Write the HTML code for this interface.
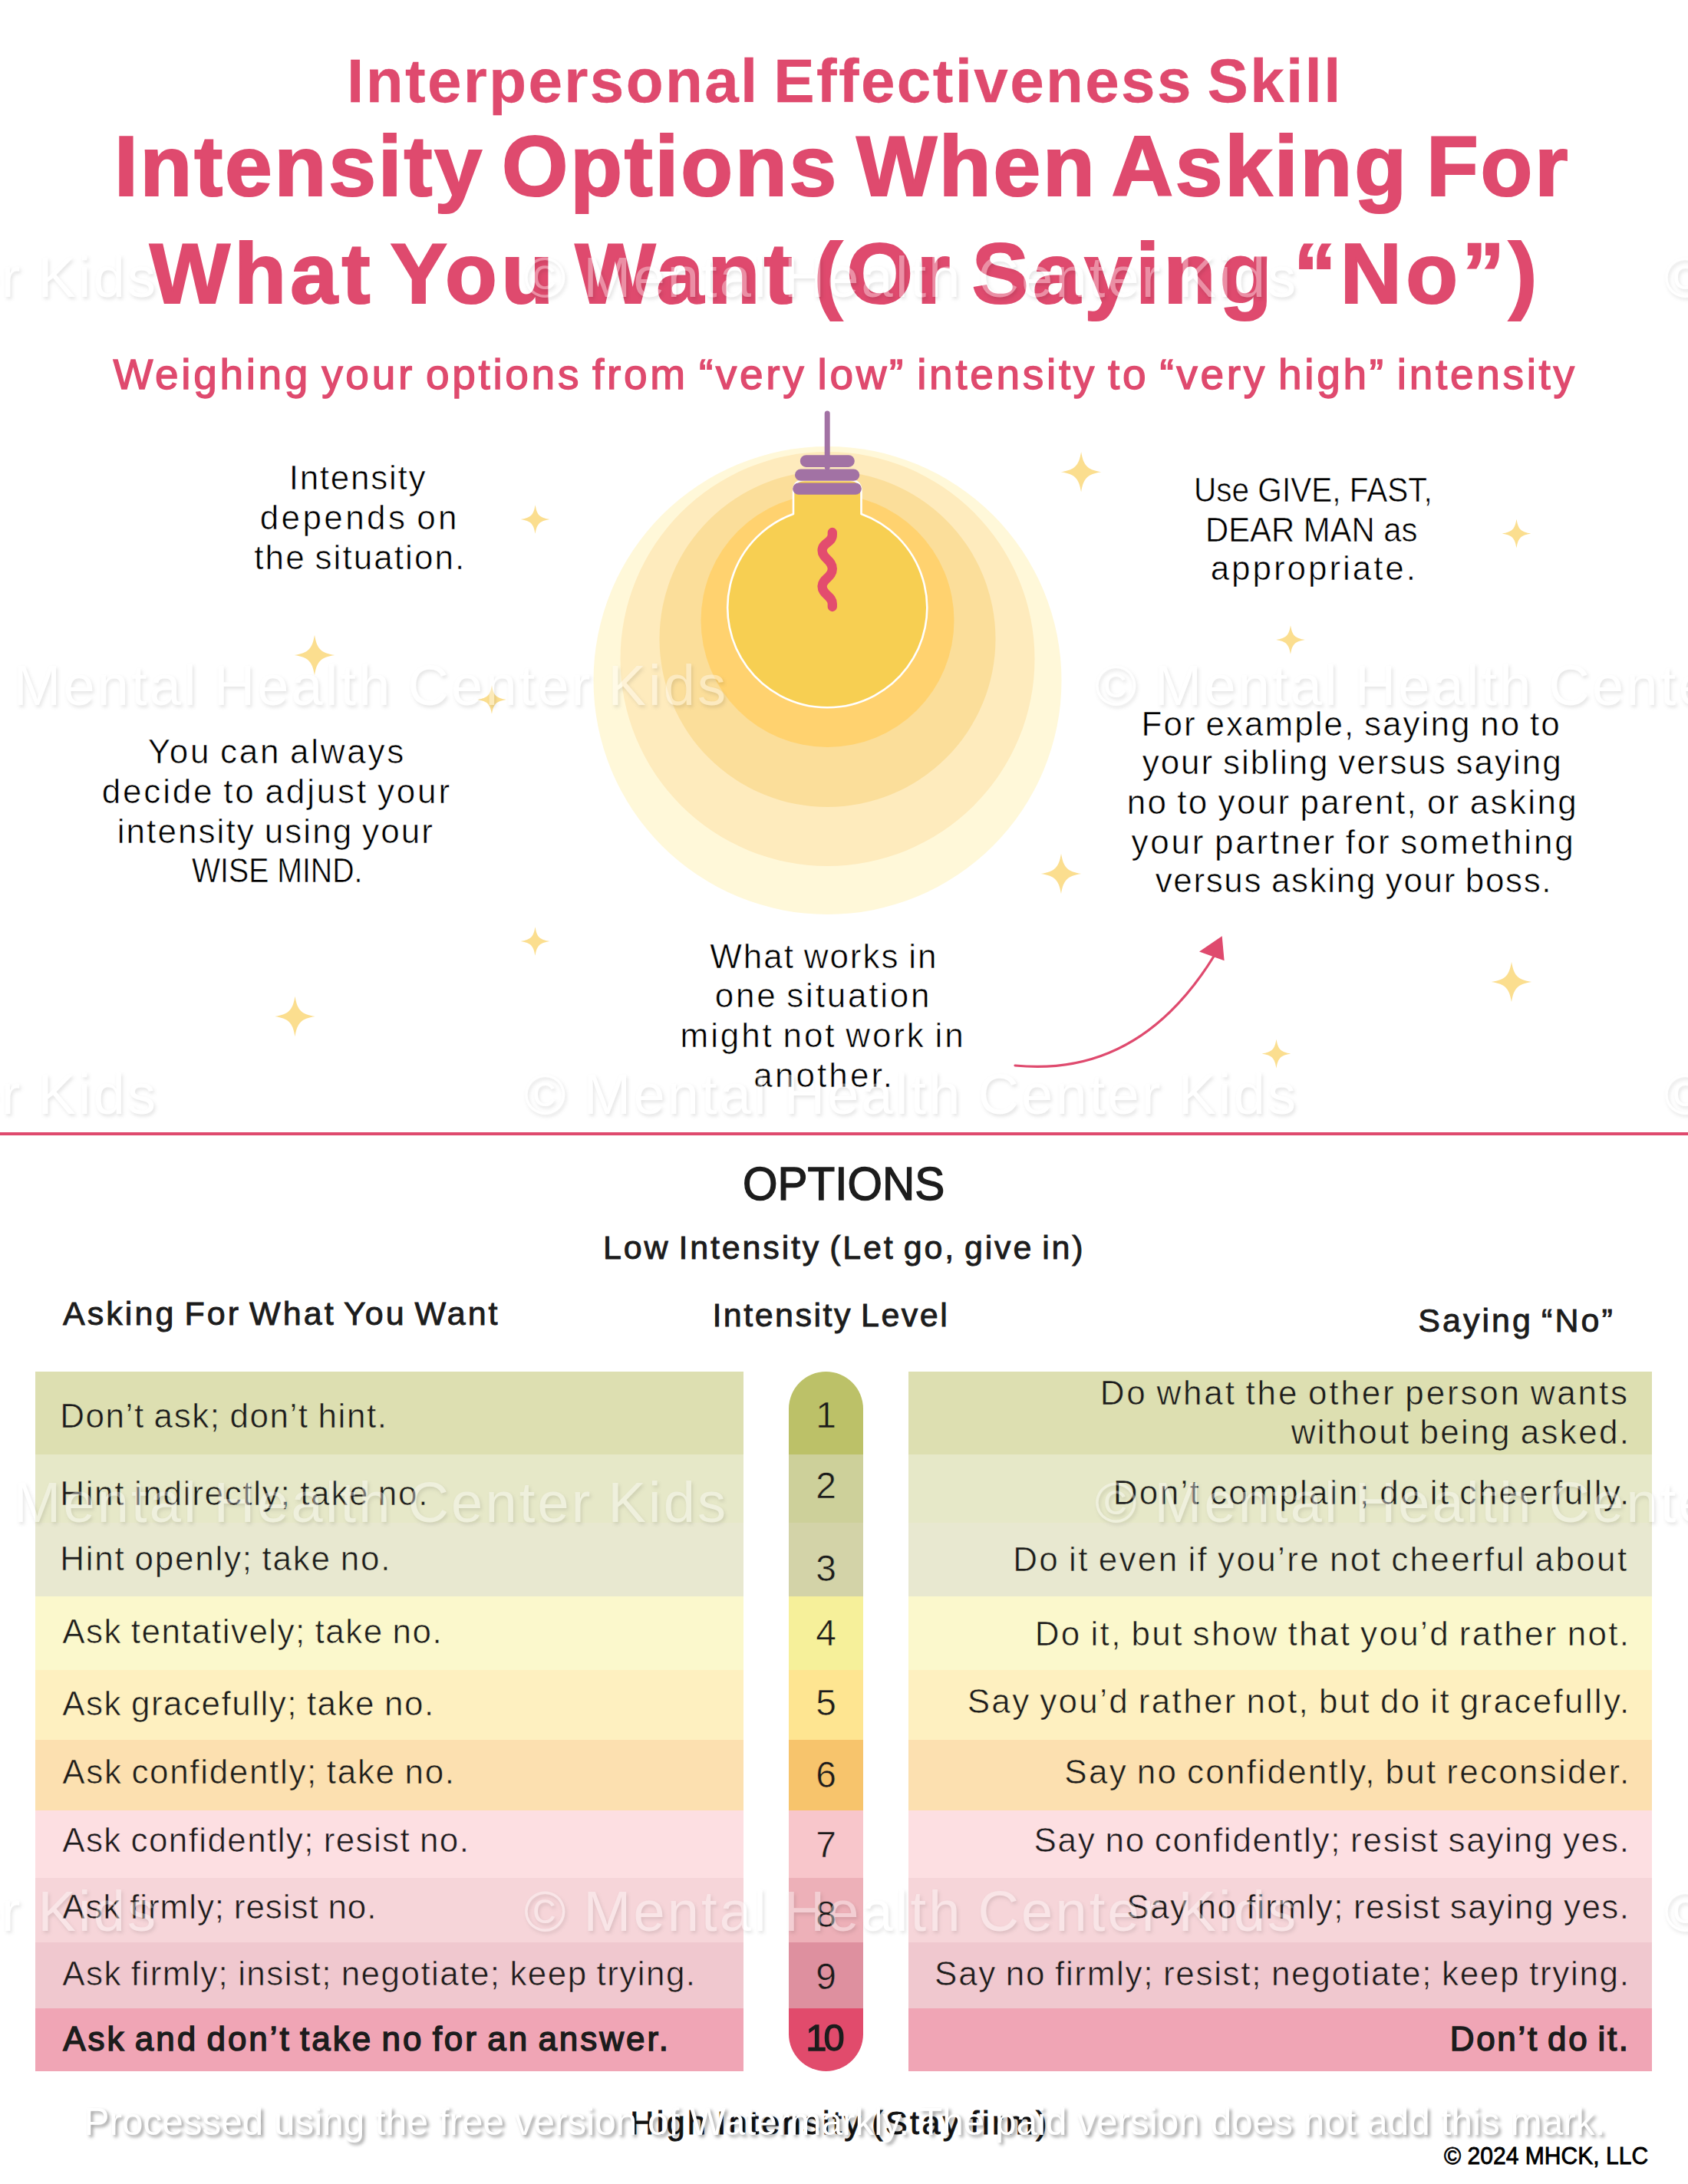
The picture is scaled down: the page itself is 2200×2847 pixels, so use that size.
<!DOCTYPE html>
<html lang="en"><head><meta charset="utf-8"><title>Intensity Options When Asking For What You Want (Or Saying “No”)</title>
<style>
html,body{margin:0;padding:0;background:#fff}
#pg{position:relative;width:2200px;height:2847px;overflow:hidden;background:#fff;font-family:"Liberation Sans",sans-serif}
.t{position:absolute;white-space:nowrap;line-height:1em;margin:0}
.r{position:absolute}
.n{text-align:center}
.pill{position:absolute;left:1028.2px;top:1788px;width:96.8px;height:912px;border-radius:48.4px;overflow:hidden}
.wm{opacity:.38;text-shadow:2px 3px 4px rgba(0,0,0,.26)}
svg{position:absolute;left:0;top:0}
.hr{position:absolute;left:0;top:1476.3px;width:2200px;height:4px;background:#DF4A6E}
.wk{color:#fff;text-shadow:3px 3px 4px rgba(0,0,0,.38);}
</style></head><body><div id="pg">
<svg width="2200" height="1480" viewBox="0 0 2200 1480">
<circle cx="1078.5" cy="887" r="305" fill="#FFF8D9"/>
<circle cx="1078.5" cy="859" r="270" fill="#FEEBBD"/>
<circle cx="1078.5" cy="833" r="219" fill="#FBDE9A"/>
<circle cx="1078.5" cy="809" r="165" fill="#FFD26F"/>
<path d="M1034,670 L1034,641 Q1034,626 1049,626 L1107.5,626 Q1122.5,626 1122.5,641 L1122.5,670 A130,130 0 1 1 1034,670Z" fill="#F7CF52" stroke="#fff" stroke-width="2.6" stroke-linejoin="round"/>
<path d="M1078.2,539 L1078.2,609" stroke="#A272A4" stroke-width="7" stroke-linecap="round" fill="none"/>
<rect x="1042.8" y="593.2" width="71" height="15.7" rx="7.8" fill="#A272A4"/>
<rect x="1036" y="611.5" width="84.2" height="15.3" rx="7.6" fill="#A272A4"/>
<rect x="1033.2" y="629.5" width="89.6" height="15.3" rx="7.6" fill="#A272A4"/>
<path d="M1084.8,694 L1084.8,697 C1084.8,708 1071.6,707 1071.6,717.5 C1071.6,728 1084.8,730 1084.8,741.5 C1084.8,753 1071.6,754 1071.6,764.5 C1071.6,775 1084.8,777 1084.8,787 L1084.8,791" stroke="#E34C6E" stroke-width="12.3" stroke-linecap="round" stroke-linejoin="round" fill="none"/>
<path transform="translate(697.6,677)" d="M0,-18.8 C2.26,-5.64 5.64,-2.26 18.8,0 C5.64,2.26 2.26,5.64 0,18.8 C-2.26,5.64 -5.64,2.26 -18.8,0 C-5.64,-2.26 -2.26,-5.64 0,-18.8Z" fill="#FBDE8F"/>
<path transform="translate(410,854)" d="M0,-26.3 C3.16,-7.89 7.89,-3.16 26.3,0 C7.89,3.16 3.16,7.89 0,26.3 C-3.16,7.89 -7.89,3.16 -26.3,0 C-7.89,-3.16 -3.16,-7.89 0,-26.3Z" fill="#FBDE8F"/>
<path transform="translate(641,912)" d="M0,-18.8 C2.26,-5.64 5.64,-2.26 18.8,0 C5.64,2.26 2.26,5.64 0,18.8 C-2.26,5.64 -5.64,2.26 -18.8,0 C-5.64,-2.26 -2.26,-5.64 0,-18.8Z" fill="#FBDE8F"/>
<path transform="translate(697.5,1227)" d="M0,-18.8 C2.26,-5.64 5.64,-2.26 18.8,0 C5.64,2.26 2.26,5.64 0,18.8 C-2.26,5.64 -5.64,2.26 -18.8,0 C-5.64,-2.26 -2.26,-5.64 0,-18.8Z" fill="#FBDE8F"/>
<path transform="translate(384.5,1325)" d="M0,-26.3 C3.16,-7.89 7.89,-3.16 26.3,0 C7.89,3.16 3.16,7.89 0,26.3 C-3.16,7.89 -7.89,3.16 -26.3,0 C-7.89,-3.16 -3.16,-7.89 0,-26.3Z" fill="#FBDE8F"/>
<path transform="translate(1409.1,615.3)" d="M0,-26.3 C3.16,-7.89 7.89,-3.16 26.3,0 C7.89,3.16 3.16,7.89 0,26.3 C-3.16,7.89 -7.89,3.16 -26.3,0 C-7.89,-3.16 -3.16,-7.89 0,-26.3Z" fill="#FBDE8F"/>
<path transform="translate(1976.5,695.5)" d="M0,-18.8 C2.26,-5.64 5.64,-2.26 18.8,0 C5.64,2.26 2.26,5.64 0,18.8 C-2.26,5.64 -5.64,2.26 -18.8,0 C-5.64,-2.26 -2.26,-5.64 0,-18.8Z" fill="#FBDE8F"/>
<path transform="translate(1682,834)" d="M0,-18.8 C2.26,-5.64 5.64,-2.26 18.8,0 C5.64,2.26 2.26,5.64 0,18.8 C-2.26,5.64 -5.64,2.26 -18.8,0 C-5.64,-2.26 -2.26,-5.64 0,-18.8Z" fill="#FBDE8F"/>
<path transform="translate(1383,1139)" d="M0,-26.3 C3.16,-7.89 7.89,-3.16 26.3,0 C7.89,3.16 3.16,7.89 0,26.3 C-3.16,7.89 -7.89,3.16 -26.3,0 C-7.89,-3.16 -3.16,-7.89 0,-26.3Z" fill="#FBDE8F"/>
<path transform="translate(1970,1280)" d="M0,-26.3 C3.16,-7.89 7.89,-3.16 26.3,0 C7.89,3.16 3.16,7.89 0,26.3 C-3.16,7.89 -7.89,3.16 -26.3,0 C-7.89,-3.16 -3.16,-7.89 0,-26.3Z" fill="#FBDE8F"/>
<path transform="translate(1663.5,1373.6)" d="M0,-18.8 C2.26,-5.64 5.64,-2.26 18.8,0 C5.64,2.26 2.26,5.64 0,18.8 C-2.26,5.64 -5.64,2.26 -18.8,0 C-5.64,-2.26 -2.26,-5.64 0,-18.8Z" fill="#FBDE8F"/>
<path d="M1323,1389 Q1485,1405 1583,1245" stroke="#DF4A6E" stroke-width="3.2" fill="none" stroke-linecap="round"/>
<path d="M1592.7,1220.3 L1563,1240.4 L1595.6,1252.3Z" fill="#DF4A6E"/>
</svg>
<div class="hr"></div>
<div class="r" style="left:45.6px;width:923.6px;top:1788px;height:108.0px;background:#DDDFB1"></div><div class="r" style="left:1184px;width:969px;top:1788px;height:108.0px;background:#DDDFB1"></div><div class="r" style="left:45.6px;width:923.6px;top:1895.5px;height:89.5px;background:#E6E8C8"></div><div class="r" style="left:1184px;width:969px;top:1895.5px;height:89.5px;background:#E6E8C8"></div><div class="r" style="left:45.6px;width:923.6px;top:1984.5px;height:97.0px;background:#E8E8D0"></div><div class="r" style="left:1184px;width:969px;top:1984.5px;height:97.0px;background:#E8E8D0"></div><div class="r" style="left:45.6px;width:923.6px;top:2081px;height:96.0px;background:#FBF8CC"></div><div class="r" style="left:1184px;width:969px;top:2081px;height:96.0px;background:#FBF8CC"></div><div class="r" style="left:45.6px;width:923.6px;top:2176.5px;height:91.5px;background:#FEF0C0"></div><div class="r" style="left:1184px;width:969px;top:2176.5px;height:91.5px;background:#FEF0C0"></div><div class="r" style="left:45.6px;width:923.6px;top:2267.5px;height:92.7px;background:#FCE0B0"></div><div class="r" style="left:1184px;width:969px;top:2267.5px;height:92.7px;background:#FCE0B0"></div><div class="r" style="left:45.6px;width:923.6px;top:2359.7px;height:89.2px;background:#FDDFE2"></div><div class="r" style="left:1184px;width:969px;top:2359.7px;height:89.2px;background:#FDDFE2"></div><div class="r" style="left:45.6px;width:923.6px;top:2448.4px;height:83.9px;background:#F6D5D9"></div><div class="r" style="left:1184px;width:969px;top:2448.4px;height:83.9px;background:#F6D5D9"></div><div class="r" style="left:45.6px;width:923.6px;top:2531.8px;height:86.9px;background:#F0C8CF"></div><div class="r" style="left:1184px;width:969px;top:2531.8px;height:86.9px;background:#F0C8CF"></div><div class="r" style="left:45.6px;width:923.6px;top:2618.2px;height:82.3px;background:#F0A5B5"></div><div class="r" style="left:1184px;width:969px;top:2618.2px;height:82.3px;background:#F0A5B5"></div>
<div class="pill"><div style="height:107.5px;background:#BCC168"></div><div style="height:89.0px;background:#CDD09A"></div><div style="height:96.5px;background:#D3D3A8"></div><div style="height:95.5px;background:#F6F09A"></div><div style="height:91.0px;background:#FEE591"></div><div style="height:92.2px;background:#F7C46C"></div><div style="height:88.7px;background:#F8C6CB"></div><div style="height:83.4px;background:#EDB0B8"></div><div style="height:86.4px;background:#DE909F"></div><div style="height:81.8px;background:#E14B6C"></div></div>
<div class="t n" style="left:1028px;width:97px;top:1821.1px;font-size:48px;color:#1c1c1c;-webkit-text-stroke:0.6px #BCC168">1</div><div class="t n" style="left:1028px;width:97px;top:1912.8px;font-size:48px;color:#1c1c1c;-webkit-text-stroke:0.6px #CDD09A">2</div><div class="t n" style="left:1028px;width:97px;top:2021.4px;font-size:48px;color:#1c1c1c;-webkit-text-stroke:0.6px #D3D3A8">3</div><div class="t n" style="left:1028px;width:97px;top:2104.7px;font-size:48px;color:#1c1c1c;-webkit-text-stroke:0.6px #F6F09A">4</div><div class="t n" style="left:1028px;width:97px;top:2195.7px;font-size:48px;color:#1c1c1c;-webkit-text-stroke:0.6px #FEE591">5</div><div class="t n" style="left:1028px;width:97px;top:2289.7px;font-size:48px;color:#1c1c1c;-webkit-text-stroke:0.6px #F7C46C">6</div><div class="t n" style="left:1028px;width:97px;top:2380.7px;font-size:48px;color:#1c1c1c;-webkit-text-stroke:0.6px #F8C6CB">7</div><div class="t n" style="left:1028px;width:97px;top:2471.7px;font-size:48px;color:#1c1c1c;-webkit-text-stroke:0.6px #EDB0B8">8</div><div class="t n" style="left:1028px;width:97px;top:2552.7px;font-size:48px;color:#1c1c1c;-webkit-text-stroke:0.6px #DE909F">9</div><div class="t n" style="left:1025px;width:97px;top:2631.9px;font-size:49px;letter-spacing:-4px;-webkit-text-stroke:1.3px #1c1c1c;color:#1c1c1c">10</div>
<div class="t" style="left:452.1px;top:65.9px;font-size:80px;font-weight:bold;color:#DF4A6E;letter-spacing:2.36px;word-spacing:-5.89px;-webkit-text-stroke:0.3px #DF4A6E;">Interpersonal Effectiveness Skill</div>
<div class="t" style="left:148.9px;top:161.5px;font-size:111px;font-weight:bold;color:#DF4A6E;letter-spacing:2.84px;word-spacing:-10.57px;-webkit-text-stroke:2.2px #DF4A6E;">Intensity Options When Asking For</div>
<div class="t" style="left:195.1px;top:302.0px;font-size:111px;font-weight:bold;color:#DF4A6E;letter-spacing:5.35px;word-spacing:-13.08px;-webkit-text-stroke:2.2px #DF4A6E;">What You Want (Or Saying “No”)</div>
<div class="t" style="left:147.4px;top:460.6px;font-size:55px;font-weight:normal;color:#DF4A6E;letter-spacing:3.68px;word-spacing:-4.91px;-webkit-text-stroke:1.4px #DF4A6E;">Weighing your options from “very low” intensity to “very high” intensity</div>
<div class="t" style="left:376.7px;top:601.1px;font-size:44px;font-weight:normal;color:#000;letter-spacing:1.74px;word-spacing:-2.13px;-webkit-text-stroke:0.6px #fff;">Intensity</div>
<div class="t" style="left:338.7px;top:653.2px;font-size:44px;font-weight:normal;color:#000;letter-spacing:3.41px;word-spacing:-3.79px;-webkit-text-stroke:0.6px #fff;">depends on</div>
<div class="t" style="left:331.3px;top:704.8px;font-size:44px;font-weight:normal;color:#000;letter-spacing:2.07px;word-spacing:-2.45px;-webkit-text-stroke:0.6px #fff;">the situation.</div>
<div class="t" style="left:192.7px;top:957.8px;font-size:44px;font-weight:normal;color:#000;letter-spacing:2.75px;word-spacing:-3.13px;-webkit-text-stroke:0.6px #fff;">You can always</div>
<div class="t" style="left:132.7px;top:1009.8px;font-size:44px;font-weight:normal;color:#000;letter-spacing:2.85px;word-spacing:-3.23px;-webkit-text-stroke:0.6px #fff;">decide to adjust your</div>
<div class="t" style="left:152.7px;top:1061.8px;font-size:44px;font-weight:normal;color:#000;letter-spacing:2.08px;word-spacing:-2.46px;-webkit-text-stroke:0.6px #fff;">intensity using your</div>
<div class="t" style="left:249.7px;top:1112.8px;font-size:44px;font-weight:normal;color:#000;letter-spacing:0.00px;word-spacing:0.00px;-webkit-text-stroke:0.6px #fff;transform:scaleX(0.8921);transform-origin:0 0;">WISE MIND.</div>
<div class="t" style="left:1555.8px;top:616.8px;font-size:44px;font-weight:normal;color:#000;letter-spacing:0.00px;word-spacing:0.00px;-webkit-text-stroke:0.6px #fff;transform:scaleX(0.9213);transform-origin:0 0;">Use GIVE, FAST,</div>
<div class="t" style="left:1570.9px;top:668.8px;font-size:44px;font-weight:normal;color:#000;letter-spacing:0.00px;word-spacing:0.00px;-webkit-text-stroke:0.6px #fff;transform:scaleX(0.9499);transform-origin:0 0;">DEAR MAN as</div>
<div class="t" style="left:1577.7px;top:718.8px;font-size:44px;font-weight:normal;color:#000;letter-spacing:2.95px;word-spacing:-3.34px;-webkit-text-stroke:0.6px #fff;">appropriate.</div>
<div class="t" style="left:1487.5px;top:921.5px;font-size:44px;font-weight:normal;color:#000;letter-spacing:2.03px;word-spacing:-2.41px;-webkit-text-stroke:0.6px #fff;">For example, saying no to</div>
<div class="t" style="left:1488.7px;top:971.6px;font-size:44px;font-weight:normal;color:#000;letter-spacing:1.97px;word-spacing:-2.36px;-webkit-text-stroke:0.6px #fff;">your sibling versus saying</div>
<div class="t" style="left:1468.7px;top:1023.8px;font-size:44px;font-weight:normal;color:#000;letter-spacing:2.38px;word-spacing:-2.76px;-webkit-text-stroke:0.6px #fff;">no to your parent, or asking</div>
<div class="t" style="left:1474.4px;top:1075.8px;font-size:44px;font-weight:normal;color:#000;letter-spacing:2.79px;word-spacing:-3.18px;-webkit-text-stroke:0.6px #fff;">your partner for something</div>
<div class="t" style="left:1505.7px;top:1125.8px;font-size:44px;font-weight:normal;color:#000;letter-spacing:1.64px;word-spacing:-2.02px;-webkit-text-stroke:0.6px #fff;">versus asking your boss.</div>
<div class="t" style="left:925.3px;top:1224.6px;font-size:44px;font-weight:normal;color:#000;letter-spacing:1.96px;word-spacing:-2.35px;-webkit-text-stroke:0.6px #fff;">What works in</div>
<div class="t" style="left:931.7px;top:1276.1px;font-size:44px;font-weight:normal;color:#000;letter-spacing:2.79px;word-spacing:-3.18px;-webkit-text-stroke:0.6px #fff;">one situation</div>
<div class="t" style="left:886.6px;top:1327.6px;font-size:44px;font-weight:normal;color:#000;letter-spacing:2.90px;word-spacing:-3.29px;-webkit-text-stroke:0.6px #fff;">might not work in</div>
<div class="t" style="left:982.3px;top:1379.8px;font-size:44px;font-weight:normal;color:#000;letter-spacing:3.11px;word-spacing:-3.50px;-webkit-text-stroke:0.6px #fff;">another.</div>
<div class="t" style="left:968.3px;top:1513.1px;font-size:61px;font-weight:normal;color:#1c1c1c;letter-spacing:0.00px;word-spacing:0.00px;-webkit-text-stroke:1.4px #1c1c1c;transform:scaleX(0.9589);transform-origin:0 0;">OPTIONS</div>
<div class="t" style="left:786.0px;top:1605.2px;font-size:43px;font-weight:normal;color:#1c1c1c;letter-spacing:2.85px;word-spacing:-3.82px;-webkit-text-stroke:0.9px #1c1c1c;">Low Intensity (Let go, give in)</div>
<div class="t" style="left:82.0px;top:1691.2px;font-size:43px;font-weight:normal;color:#1c1c1c;letter-spacing:3.06px;word-spacing:-4.02px;-webkit-text-stroke:0.9px #1c1c1c;">Asking For What You Want</div>
<div class="t" style="left:928.4px;top:1692.6px;font-size:43px;font-weight:normal;color:#1c1c1c;letter-spacing:2.50px;word-spacing:-3.47px;-webkit-text-stroke:0.9px #1c1c1c;">Intensity Level</div>
<div class="t" style="left:1848.2px;top:1700.0px;font-size:43px;font-weight:normal;color:#1c1c1c;letter-spacing:3.06px;word-spacing:-4.03px;-webkit-text-stroke:0.9px #1c1c1c;">Saying “No”</div>
<div class="t" style="left:821.2px;top:2746.4px;font-size:43px;font-weight:normal;color:#111;letter-spacing:3.42px;word-spacing:-4.39px;-webkit-text-stroke:0.9px #1c1c1c;">High Intensity (Stay firm)</div>
<div class="t" style="left:1881.9px;top:2795.3px;font-size:31px;font-weight:normal;color:#000;letter-spacing:0.00px;word-spacing:0.00px;-webkit-text-stroke:0.8px #000;transform:scaleX(0.9698);transform-origin:0 0;">© 2024 MHCK, LLC</div>
<div class="t" style="left:78.2px;top:1823.8px;font-size:44px;font-weight:normal;color:#1c1c1c;letter-spacing:1.57px;word-spacing:-1.96px;-webkit-text-stroke:0.6px #DDDFB1;">Don’t ask; don’t hint.</div>
<div class="t" style="left:78.2px;top:1924.8px;font-size:44px;font-weight:normal;color:#1c1c1c;letter-spacing:1.68px;word-spacing:-2.07px;-webkit-text-stroke:0.6px #E6E8C8;">Hint indirectly; take no.</div>
<div class="t" style="left:78.2px;top:2009.5px;font-size:44px;font-weight:normal;color:#1c1c1c;letter-spacing:1.78px;word-spacing:-2.17px;-webkit-text-stroke:0.6px #E8E8D0;">Hint openly; take no.</div>
<div class="t" style="left:81.2px;top:2105.3px;font-size:44px;font-weight:normal;color:#1c1c1c;letter-spacing:1.47px;word-spacing:-1.85px;-webkit-text-stroke:0.6px #FBF8CC;">Ask tentatively; take no.</div>
<div class="t" style="left:81.2px;top:2198.5px;font-size:44px;font-weight:normal;color:#1c1c1c;letter-spacing:1.51px;word-spacing:-1.90px;-webkit-text-stroke:0.6px #FEF0C0;">Ask gracefully; take no.</div>
<div class="t" style="left:81.2px;top:2287.5px;font-size:44px;font-weight:normal;color:#1c1c1c;letter-spacing:1.67px;word-spacing:-2.05px;-webkit-text-stroke:0.6px #FCE0B0;">Ask confidently; take no.</div>
<div class="t" style="left:81.2px;top:2377.4px;font-size:44px;font-weight:normal;color:#1c1c1c;letter-spacing:1.39px;word-spacing:-1.77px;-webkit-text-stroke:0.6px #FDDFE2;">Ask confidently; resist no.</div>
<div class="t" style="left:81.2px;top:2463.5px;font-size:44px;font-weight:normal;color:#1c1c1c;letter-spacing:0.93px;word-spacing:-1.31px;-webkit-text-stroke:0.6px #F6D5D9;">Ask firmly; resist no.</div>
<div class="t" style="left:81.2px;top:2551.4px;font-size:44px;font-weight:normal;color:#1c1c1c;letter-spacing:1.46px;word-spacing:-1.84px;-webkit-text-stroke:0.6px #F0C8CF;">Ask firmly; insist; negotiate; keep trying.</div>
<div class="t" style="left:82.2px;top:2636.2px;font-size:44px;font-weight:normal;color:#1c1c1c;letter-spacing:3.00px;word-spacing:-3.99px;-webkit-text-stroke:1.5px #1c1c1c;">Ask and don’t take no for an answer.</div>
<div class="t" style="left:1433.7px;top:1794.3px;font-size:44px;font-weight:normal;color:#1c1c1c;letter-spacing:2.83px;word-spacing:-3.21px;-webkit-text-stroke:0.6px #DDDFB1;">Do what the other person wants</div>
<div class="t" style="left:1682.7px;top:1845.3px;font-size:44px;font-weight:normal;color:#1c1c1c;letter-spacing:2.35px;word-spacing:-2.74px;-webkit-text-stroke:0.6px #DDDFB1;">without being asked.</div>
<div class="t" style="left:1450.7px;top:1923.8px;font-size:44px;font-weight:normal;color:#1c1c1c;letter-spacing:2.35px;word-spacing:-2.73px;-webkit-text-stroke:0.6px #E6E8C8;">Don’t complain; do it cheerfully.</div>
<div class="t" style="left:1320.2px;top:2010.8px;font-size:44px;font-weight:normal;color:#1c1c1c;letter-spacing:2.38px;word-spacing:-2.76px;-webkit-text-stroke:0.6px #E8E8D0;">Do it even if you’re not cheerful about</div>
<div class="t" style="left:1348.7px;top:2108.1px;font-size:44px;font-weight:normal;color:#1c1c1c;letter-spacing:2.34px;word-spacing:-2.72px;-webkit-text-stroke:0.6px #FBF8CC;">Do it, but show that you’d rather not.</div>
<div class="t" style="left:1260.7px;top:2196.3px;font-size:44px;font-weight:normal;color:#1c1c1c;letter-spacing:2.31px;word-spacing:-2.69px;-webkit-text-stroke:0.6px #FEF0C0;">Say you’d rather not, but do it gracefully.</div>
<div class="t" style="left:1387.3px;top:2288.1px;font-size:44px;font-weight:normal;color:#1c1c1c;letter-spacing:2.27px;word-spacing:-2.65px;-webkit-text-stroke:0.6px #FCE0B0;">Say no confidently, but reconsider.</div>
<div class="t" style="left:1347.5px;top:2377.0px;font-size:44px;font-weight:normal;color:#1c1c1c;letter-spacing:1.75px;word-spacing:-2.13px;-webkit-text-stroke:0.6px #FDDFE2;">Say no confidently; resist saying yes.</div>
<div class="t" style="left:1468.3px;top:2463.7px;font-size:44px;font-weight:normal;color:#1c1c1c;letter-spacing:1.50px;word-spacing:-1.88px;-webkit-text-stroke:0.6px #F6D5D9;">Say no firmly; resist saying yes.</div>
<div class="t" style="left:1218.1px;top:2551.1px;font-size:44px;font-weight:normal;color:#1c1c1c;letter-spacing:1.69px;word-spacing:-2.08px;-webkit-text-stroke:0.6px #F0C8CF;">Say no firmly; resist; negotiate; keep trying.</div>
<div class="t" style="left:1889.8px;top:2636.4px;font-size:44px;font-weight:normal;color:#1c1c1c;letter-spacing:2.66px;word-spacing:-3.65px;-webkit-text-stroke:1.5px #1c1c1c;">Don’t do it.</div>
<div class="t wm" style="left:-803.0px;top:324.9px;font-size:74px;font-weight:normal;color:#fff;letter-spacing:3.17px;word-spacing:-3.81px;">© Mental Health Center Kids</div>
<div class="t wm" style="left:683.0px;top:324.9px;font-size:74px;font-weight:normal;color:#fff;letter-spacing:3.17px;word-spacing:-3.81px;">© Mental Health Center Kids</div>
<div class="t wm" style="left:2169.0px;top:324.9px;font-size:74px;font-weight:normal;color:#fff;letter-spacing:3.17px;word-spacing:-3.81px;">© Mental Health Center Kids</div>
<div class="t wm" style="left:-60.0px;top:857.4px;font-size:74px;font-weight:normal;color:#fff;letter-spacing:3.17px;word-spacing:-3.81px;">© Mental Health Center Kids</div>
<div class="t wm" style="left:1427.0px;top:857.4px;font-size:74px;font-weight:normal;color:#fff;letter-spacing:3.17px;word-spacing:-3.81px;">© Mental Health Center Kids</div>
<div class="t wm" style="left:-803.0px;top:1389.9px;font-size:74px;font-weight:normal;color:#fff;letter-spacing:3.17px;word-spacing:-3.81px;">© Mental Health Center Kids</div>
<div class="t wm" style="left:683.0px;top:1389.9px;font-size:74px;font-weight:normal;color:#fff;letter-spacing:3.17px;word-spacing:-3.81px;">© Mental Health Center Kids</div>
<div class="t wm" style="left:2169.0px;top:1389.9px;font-size:74px;font-weight:normal;color:#fff;letter-spacing:3.17px;word-spacing:-3.81px;">© Mental Health Center Kids</div>
<div class="t wm" style="left:-60.0px;top:1922.4px;font-size:74px;font-weight:normal;color:#fff;letter-spacing:3.17px;word-spacing:-3.81px;">© Mental Health Center Kids</div>
<div class="t wm" style="left:1427.0px;top:1922.4px;font-size:74px;font-weight:normal;color:#fff;letter-spacing:3.17px;word-spacing:-3.81px;">© Mental Health Center Kids</div>
<div class="t wm" style="left:-803.0px;top:2454.9px;font-size:74px;font-weight:normal;color:#fff;letter-spacing:3.17px;word-spacing:-3.81px;">© Mental Health Center Kids</div>
<div class="t wm" style="left:683.0px;top:2454.9px;font-size:74px;font-weight:normal;color:#fff;letter-spacing:3.17px;word-spacing:-3.81px;">© Mental Health Center Kids</div>
<div class="t wm" style="left:2169.0px;top:2454.9px;font-size:74px;font-weight:normal;color:#fff;letter-spacing:3.17px;word-spacing:-3.81px;">© Mental Health Center Kids</div>
<div class="t wk" style="left:109.4px;top:2740.9px;font-size:49.5px;font-weight:normal;color:#fff;letter-spacing:-0.00px;word-spacing:0.00px;">Processed using the free version of Watermarkly. The paid version does not add this mark.</div>
</div></body></html>
